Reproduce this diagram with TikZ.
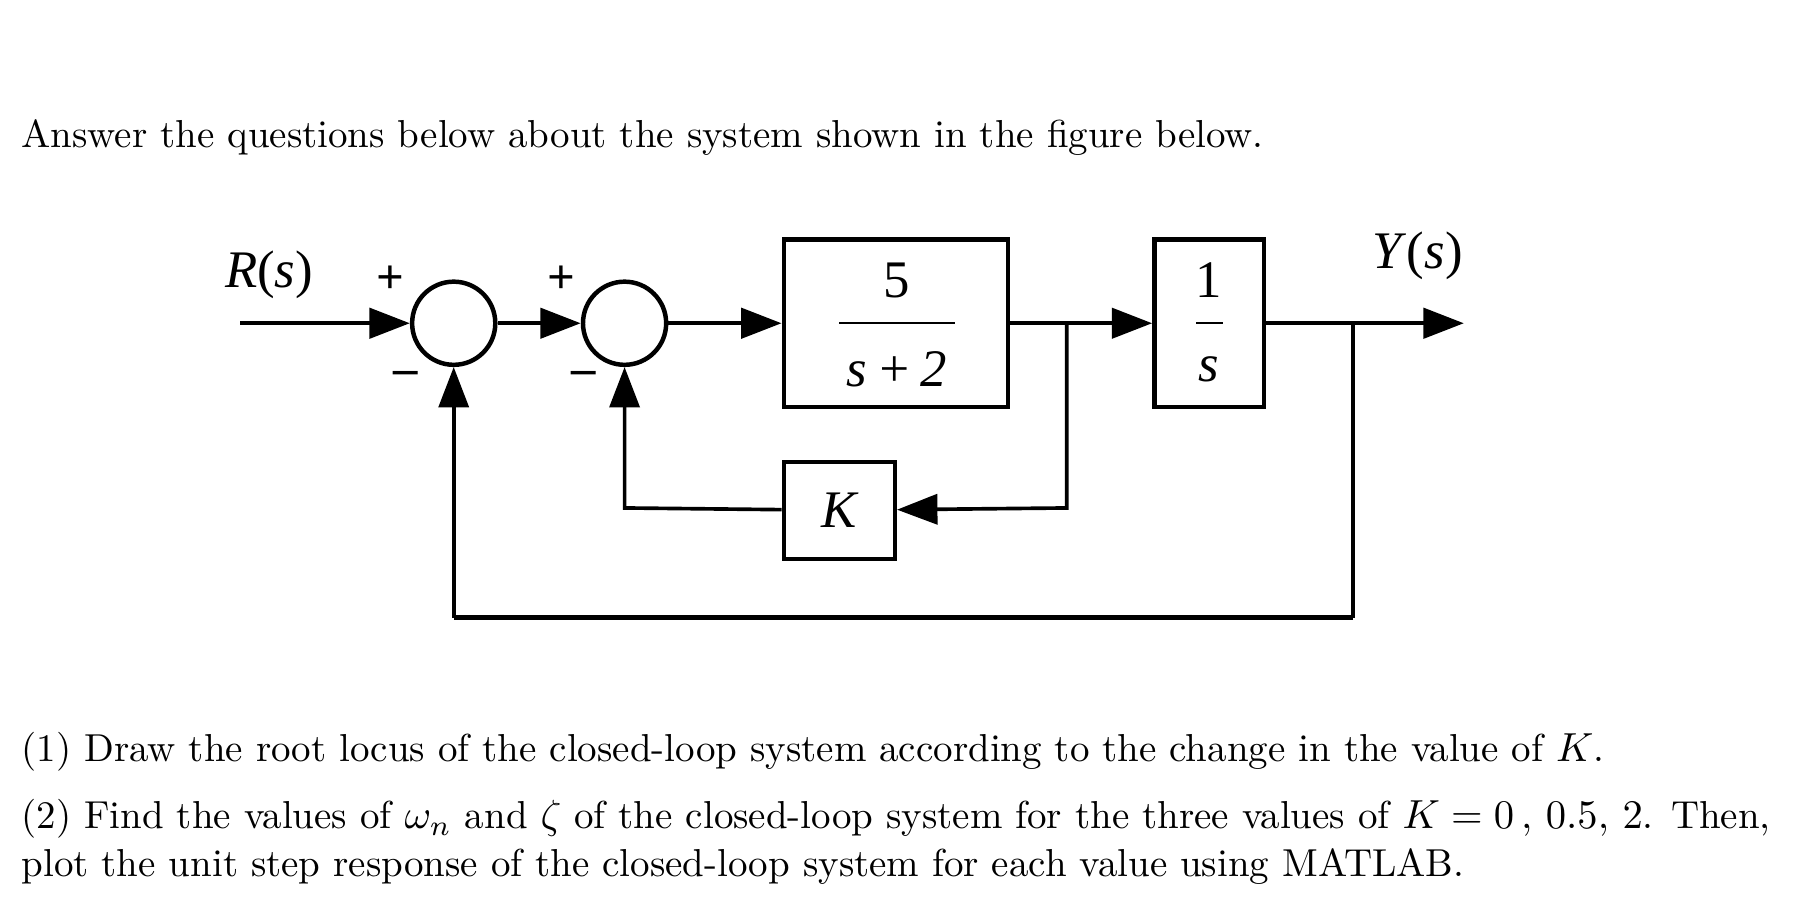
\documentclass[tikz,border=0pt]{standalone}
\usepackage{fontspec}
\newfontfamily\dfont{Liberation Serif}
\usetikzlibrary{arrows.meta}
\begin{document}
\begin{tikzpicture}[x=0.01cm,y=-0.01cm,
  txt/.style={anchor=base west,inner sep=0,font=\fontsize{9.6}{11}\selectfont},
  lab/.style={inner sep=0,font=\dfont\fontsize{13}{15}\selectfont},
  blk/.style={draw,line width=1.1pt,inner sep=0},
  sum/.style={draw,circle,line width=1.1pt,minimum size=0.72cm,inner sep=0},
  main/.style={line width=1.1pt},
  fb/.style={line width=0.9pt},
  arr/.style={-{Triangle[length=0.35cm,width=0.26cm]}}]
\useasboundingbox (0,0) rectangle (1560,789);
\node[txt] (t0) at (18,128) {Answer the questions below about the system shown in the figure below.};
\node[txt] (t1) at (18,660) {(1) Draw the root locus of the closed-loop system according to the change in the value of $K$.};
\node[txt] (t2) at (18,718) {(2) Find the values of $\omega_n$ and $\zeta$ of the closed-loop system for the three values of $K=0\,,\,0.5,\,2$. Then,};
\node[txt] (t3) at (18,759) {plot the unit step response of the closed-loop system for each value using MATLAB.};

\coordinate (in) at (208,280);
\node[sum] (s1) at (393,280) {};
\node[sum] (s2) at (541,280) {};
\node[blk,minimum width=1.94cm,minimum height=1.45cm] (g1) at (776,280) {};
\node[blk,minimum width=0.95cm,minimum height=1.45cm] (g2) at (1047.5,280) {};
\node[blk,minimum width=0.96cm,minimum height=0.84cm] (k) at (727,442) {};
\node[lab] (kl) at (727,442) {\itshape K};
\node[lab] (n1) at (777,243) {5};
\node[lab] (d1) at (777,320) {\itshape s\,+\,2};
\draw[line width=0.6pt] (727,280) -- (827,280);
\node[lab] (n2) at (1047,243) {1};
\node[lab] (d2) at (1047,320) {\itshape s};
\draw[line width=0.6pt] (1036,280) -- (1059,280);
\coordinate (out) at (1268,280);
\coordinate (b1) at (924,280);
\coordinate (b2) at (1172,280);
\coordinate (c1) at (924,440);
\coordinate (c2) at (541,440);
\coordinate (e1) at (1172,535);
\coordinate (e2) at (393,535);
\node[lab] (R) at (233,238) {\itshape R\/\upshape(\itshape s\/\upshape)};
\node[lab] (Y) at (1228,222) {\itshape Y\/\upshape(\itshape s\/\upshape)};
\node[lab,font=\dfont\bfseries\fontsize{12}{14}\selectfont] (p1) at (338,242) {+};
\node[lab,font=\dfont\bfseries\fontsize{12}{14}\selectfont] (p2) at (486,242) {+};
\node[lab,font=\dfont\bfseries\fontsize{12}{14}\selectfont] (m1) at (351,327) {\textendash};
\node[lab,font=\dfont\bfseries\fontsize{12}{14}\selectfont] (m2) at (506,327) {\textendash};

\draw[main,arr] (in) -- (s1);
\draw[main,arr] (s1) -- (s2);
\draw[main,arr] (s2) -- (g1);
\draw[main,arr] (g1) -- (g2);
\draw[main,arr] (g2) -- (out);
\draw[fb,arr] (b1) -- (c1) -- (k);
\draw[fb,arr] (k) -- (c2) -- (s2);
\draw[fb] (b2) -- (e1);
\draw[main] (e1) -- (e2);
\draw[fb,arr] (e2) -- (s1);
\end{tikzpicture}
\end{document}
